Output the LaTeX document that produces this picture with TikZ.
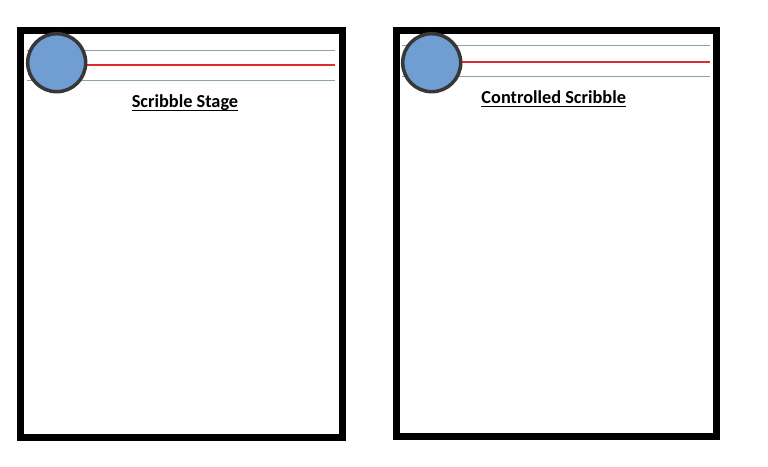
\documentclass[tikz,border=0pt]{standalone}
\usepackage{fontspec}
\setmainfont{Carlito}
\definecolor{dotblue}{RGB}{112,157,210}
\definecolor{rimgray}{RGB}{55,55,55}
\definecolor{rulegray}{RGB}{140,163,172}
\definecolor{rulered}{RGB}{218,45,50}
\tikzset{
  frame/.style={draw=black, line width=6.5pt},
  dot/.style={draw=rimgray, fill=dotblue, line width=3.5pt},
  grayrule/.style={draw=rulegray, line width=1.4pt},
  redrule/.style={draw=rulered, line width=1.8pt},
  title/.style={inner sep=0pt, anchor=base, font=\fontsize{18.3}{22}\selectfont\bfseries},
}

\begin{document}
\begin{tikzpicture}[x=1pt, y=-1pt]
        \useasboundingbox (0,0) rectangle (768,466);
        \fill[white] (0,0) rectangle (768,466);

        % Left page
        \draw[frame] (20.5,30.5) rectangle (342.5,437.5);
        \draw[grayrule] (27,50.7) -- (335,50.7);
        \draw[redrule] (27,65.3) -- (335,65.3);
        \draw[grayrule] (27,80.3) -- (335,80.3);
        \draw[dot] (56.7,62.7) circle (29);
        \node[title] (scribble) at (185,107.3) {Scribble Stage};
        \draw[line width=1.3pt] ([yshift=-3.4pt]scribble.base west) -- ([yshift=-3.4pt]scribble.base east);

        % Right page
        \draw[frame] (396.7,30.5) rectangle (716.3,436.5);
        \draw[grayrule] (402,45.7) -- (710,45.7);
        \draw[redrule] (402,61.7) -- (710,61.7);
        \draw[grayrule] (402,76.3) -- (710,76.3);
        \draw[dot] (431.7,62.7) circle (29);
        \node[title] (controlled) at (553.7,103.3) {Controlled Scribble};
        \draw[line width=1.3pt] ([yshift=-3.4pt]controlled.base west) -- ([yshift=-3.4pt]controlled.base east);
    \end{tikzpicture}
\end{document}
